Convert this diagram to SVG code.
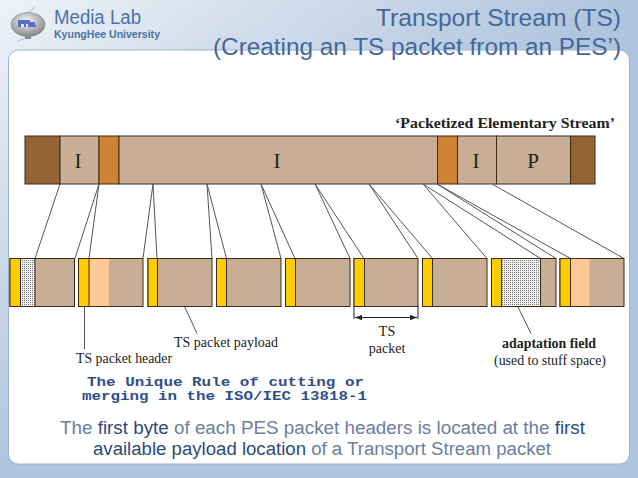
<svg xmlns="http://www.w3.org/2000/svg" width="638" height="478" viewBox="0 0 638 478">
<style>
.seg{stroke:#3a2a18;stroke-width:1}
.tan{fill:#c8ae94}.brown{fill:#956435}.orange{fill:#cc8232}.yellow{fill:#ffcc00}.light{fill:#ffc896}.dots{fill:url(#dots)}
.ln{stroke:#555;stroke-width:1;fill:none}
.dim{stroke:#222;stroke-width:1;fill:none}
.serif{font-family:"Liberation Serif","Times New Roman",serif;fill:#222}
.big{font-size:21px;text-anchor:middle}
.lab{font-size:14px}
.title{font-family:"Liberation Sans",Arial,sans-serif;font-size:24.500px;fill:#44689b;text-anchor:end}
.rule{font-family:"Liberation Mono","Courier New",monospace;font-weight:bold;font-size:13px;fill:#2f4f8a}
.body{font-family:"Liberation Sans",Arial,sans-serif;font-size:18px;fill:#6a80a0}
.dark{fill:#2b4a80}
</style>
<defs>
<linearGradient id="bg" x1="0" y1="0" x2="1" y2="1">
<stop offset="0" stop-color="#eef2f7"/><stop offset="0.5" stop-color="#afc4dd"/><stop offset="1" stop-color="#afc4dd"/>
</linearGradient>
<pattern id="dots" width="2" height="2" patternUnits="userSpaceOnUse">
<rect width="2" height="2" fill="#f0f0f0"/><rect width="1" height="1" fill="#777"/>
</pattern>
<radialGradient id="logoG" cx="0.45" cy="0.35" r="0.7"><stop offset="0" stop-color="#f5f5f5"/><stop offset="1" stop-color="#7f7f7f"/></radialGradient>
<marker id="arr" viewBox="0 0 8 6" refX="8" refY="3" markerWidth="7" markerHeight="6" orient="auto-start-reverse"><path d="M0,0L8,3L0,6z" fill="#222"/></marker>
</defs>
<rect id="background" width="638" height="478" fill="url(#bg)"/>
<rect id="panel" x="8.500" y="50" width="621" height="414" rx="10" fill="#fff" stroke="#9db4d0" stroke-width="1"/>
<g id="logo">
<path d="M35,7L28,13M18,41L30,36" stroke="#b4bcc6" stroke-width="1" fill="none"/>
<ellipse cx="28" cy="24.500" rx="17" ry="12" fill="url(#logoG)" stroke="#777" stroke-width="0.500"/>
<path d="M18,20h12v2h5v3h1v2h-18z" fill="#5a6fc8"/>
<path d="M21,24h3v3h-3zM26,24h2v3h-2z" fill="#e4e8f4"/>
<rect x="25" y="36" width="6" height="3" fill="#888"/>
<text x="54" y="23.500" font-family="Liberation Sans,Arial,sans-serif" font-size="19.500px" fill="#4a73a8" textLength="87" lengthAdjust="spacingAndGlyphs">Media Lab</text>
<text x="54" y="37.500" font-family="Liberation Sans,Arial,sans-serif" font-weight="bold" font-size="10.500px" fill="#4a73a8" textLength="106" lengthAdjust="spacingAndGlyphs">KyungHee University</text>
</g>
<g id="title">
<text class="title" x="621" y="26" textLength="245" lengthAdjust="spacingAndGlyphs">Transport Stream (TS)</text>
<text class="title" x="621" y="55" textLength="408" lengthAdjust="spacingAndGlyphs">(Creating an TS packet from an PES’)</text>
</g>
<g id="pes-stream">
<rect class="seg brown" x="25" y="136" width="35" height="48"/>
<rect class="seg tan" x="60" y="136" width="39" height="48"/>
<rect class="seg orange" x="99" y="136" width="20" height="48"/>
<rect class="seg tan" x="119" y="136" width="318.500" height="48"/>
<rect class="seg orange" x="437.500" y="136" width="20" height="48"/>
<rect class="seg tan" x="457.500" y="136" width="39" height="48"/>
<rect class="seg tan" x="496.500" y="136" width="74" height="48"/>
<rect class="seg brown" x="570.500" y="136" width="24.500" height="48"/>
<text class="serif big" x="78" y="168">I</text>
<text class="serif big" x="277" y="168">I</text>
<text class="serif big" x="476" y="168">I</text>
<text class="serif big" x="533" y="168">P</text>
<text class="serif" x="395" y="128" font-size="15px" font-weight="bold" textLength="220" lengthAdjust="spacingAndGlyphs">‘Packetized Elementary Stream’</text>
</g>
<g id="connectors">
<path class="ln" d="M60,184L35,258.500M99,184L75,258.500M99,184L89,258.500M153,184L143,258.500M153,184L157,258.500M207,184L212,258.500M207,184L226.500,258.500M261,184L281,258.500M261,184L295,258.500M315,184L350,258.500M315,184L364,258.500M369,184L418,258.500M369,184L432.500,258.500M423,184L487,258.500M423,184L540.500,258.500M437,184L556,258.500M437,184L570.500,258.500M492,184L624,258.500"/>
<path class="ln" d="M84.500,306.500V349M182,301L197,333.500M515,301L531,333.500"/>
<path class="dim" d="M354,306.500V319M418,306.500V319"/>
<path class="dim" d="M355,317.500H417" marker-start="url(#arr)" marker-end="url(#arr)"/>
</g>
<g id="packet-1"><rect class="seg tan" x="10" y="258.500" width="64.500" height="48"/><rect class="seg dots" x="20.500" y="258.500" width="14.500" height="48"/><rect class="seg yellow" x="10" y="258.500" width="10.500" height="48"/></g>
<g id="packet-2"><rect class="seg tan" x="78.500" y="258.500" width="64.500" height="48"/><rect class="light" x="89" y="259" width="20" height="47"/><rect class="seg yellow" x="78.500" y="258.500" width="10.500" height="48"/></g>
<g id="packet-3"><rect class="seg tan" x="148" y="258.500" width="64" height="48"/><rect class="seg yellow" x="148" y="258.500" width="9.500" height="48"/></g>
<g id="packet-4"><rect class="seg tan" x="216.500" y="258.500" width="64.500" height="48"/><rect class="seg yellow" x="216.500" y="258.500" width="10" height="48"/></g>
<g id="packet-5"><rect class="seg tan" x="285.500" y="258.500" width="64.500" height="48"/><rect class="seg yellow" x="285.500" y="258.500" width="10" height="48"/></g>
<g id="packet-6"><rect class="seg tan" x="354" y="258.500" width="64" height="48"/><rect class="seg yellow" x="354" y="258.500" width="10.500" height="48"/></g>
<g id="packet-7"><rect class="seg tan" x="422.500" y="258.500" width="64.500" height="48"/><rect class="seg yellow" x="422.500" y="258.500" width="10" height="48"/></g>
<g id="packet-8"><rect class="seg tan" x="491.500" y="258.500" width="64.500" height="48"/><rect class="seg dots" x="501.500" y="258.500" width="39" height="48"/><rect class="seg yellow" x="491.500" y="258.500" width="10" height="48"/></g>
<g id="packet-9"><rect class="seg tan" x="560" y="258.500" width="64" height="48"/><rect class="light" x="570.500" y="259" width="19" height="47"/><rect class="seg yellow" x="560" y="258.500" width="10.500" height="48"/></g>
<g id="labels">
<text class="serif lab" x="76" y="363" textLength="96" lengthAdjust="spacingAndGlyphs">TS packet header</text>
<text class="serif lab" x="174" y="347" textLength="104" lengthAdjust="spacingAndGlyphs">TS packet payload</text>
<text class="serif lab" x="387" y="336" text-anchor="middle">TS</text>
<text class="serif lab" x="387" y="353" text-anchor="middle">packet</text>
<text class="serif lab" x="502" y="348" font-weight="bold" textLength="94" lengthAdjust="spacingAndGlyphs">adaptation field</text>
<text class="serif lab" x="494" y="365" textLength="112" lengthAdjust="spacingAndGlyphs">(used to stuff space)</text>
</g>
<g id="notes">
<text class="rule" x="87" y="385.500" textLength="277" lengthAdjust="spacingAndGlyphs">The Unique Rule of cutting or</text>
<text class="rule" x="82" y="400" textLength="285" lengthAdjust="spacingAndGlyphs">merging in the ISO/IEC 13818-1</text>
<text class="body" x="60" y="433.500" textLength="525" lengthAdjust="spacingAndGlyphs">The <tspan class="dark">first byte</tspan> of each PES packet headers is located at the <tspan class="dark">first</tspan></text>
<text class="body" x="93" y="455" textLength="458" lengthAdjust="spacingAndGlyphs"><tspan class="dark">available payload location</tspan> of a Transport Stream packet</text>
</g>
</svg>
